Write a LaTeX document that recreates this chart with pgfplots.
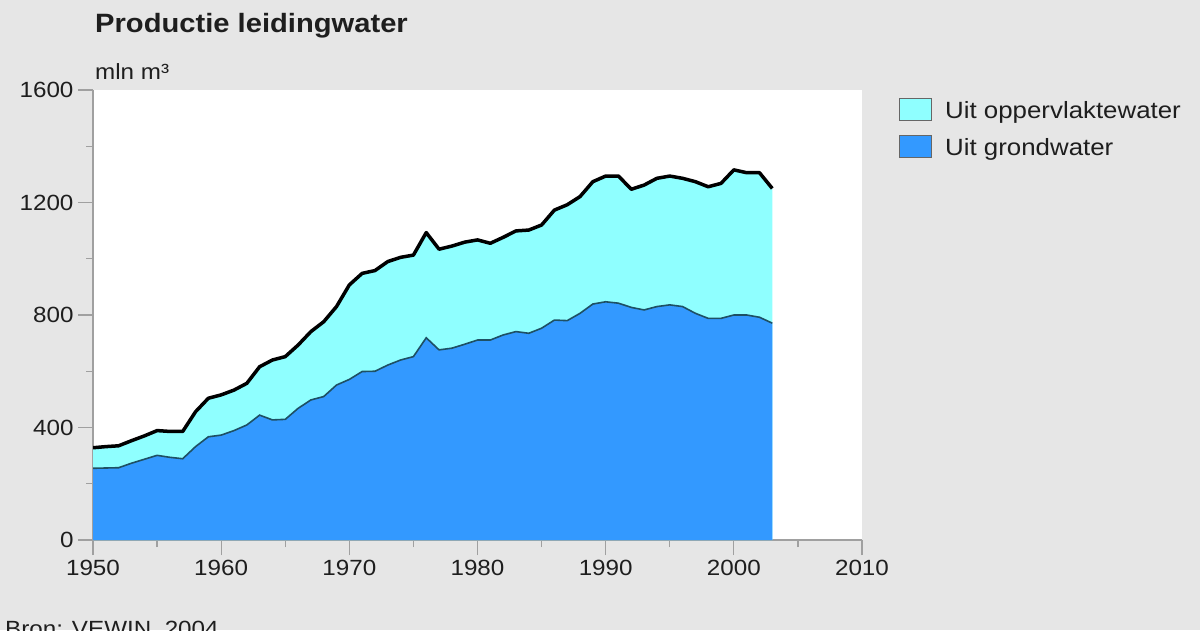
\documentclass[border=0pt]{standalone}
\usepackage{fontspec}
\setmainfont[FakeStretch=1.1]{Liberation Sans}
\usepackage{pgfplots}
\usepackage{pgfplotstable}
\pgfplotsset{compat=1.18}
\definecolor{bggray}{RGB}{230,230,230}
\definecolor{surf}{RGB}{143,255,255}
\definecolor{grnd}{RGB}{51,153,255}
\definecolor{edge}{RGB}{30,80,100}
\definecolor{axgray}{RGB}{160,160,160}
\definecolor{txt}{RGB}{30,30,30}

\pgfplotstableread{
year ground total
1950 255 328
1951 256 332
1952 257 335
1953 273 353
1954 287 370
1955 301 389
1956 294 386
1957 289 386
1958 332 456
1959 367 504
1960 373 516
1961 389 533
1962 409 557
1963 444 616
1964 427 640
1965 429 652
1966 468 693
1967 498 741
1968 510 776
1969 551 830
1970 571 907
1971 599 948
1972 600 958
1973 622 990
1974 640 1005
1975 652 1013
1976 719 1093
1977 676 1034
1978 682 1045
1979 696 1059
1980 711 1067
1981 711 1055
1982 729 1076
1983 741 1099
1984 735 1102
1985 753 1120
1986 782 1173
1987 780 1192
1988 806 1221
1989 839 1274
1990 847 1294
1991 842 1294
1992 827 1247
1993 818 1262
1994 830 1286
1995 836 1294
1996 830 1286
1997 806 1274
1998 788 1256
1999 788 1268
2000 800 1316
2001 800 1306
2002 792 1306
2003 771 1250
}\datatable

\begin{document}
\begin{tikzpicture}[x=1pt,y=1pt]
\clip (0,0) rectangle (1200,630);
\fill[bggray] (0,0) rectangle (1200,630);
\begin{axis}[
  at={(93pt,90pt)}, anchor=south west,
  scale only axis, width=769pt, height=450pt,
  xmin=1950, xmax=2010, ymin=0, ymax=1600,
  axis x line=bottom, axis y line=left,
  axis line style={-, draw=axgray, line width=1.5pt},
  axis background/.style={fill=white},
  xtick={1950,1960,...,2010},
  minor xtick={1955,1965,...,2005},
  ytick={0,400,...,1600},
  minor ytick={200,600,1000,1400},
  tick align=outside,
  major tick length=15pt, minor tick length=7pt,
  every tick/.style={draw=axgray, line width=1.2pt},
  /pgf/number format/1000 sep={},
  /pgf/number format/assume math mode=true,
  tick label style={font=\fontsize{22}{26}\selectfont, text=txt},
  yticklabel style={xshift=-1pt},
  xticklabel style={yshift=-2pt},
  legend style={draw=none, fill=none, at={(axis description cs:1.044,0.987)}, anchor=north west,
    font=\fontsize{23.5}{27}\selectfont, text=txt, row sep=13pt,
    /tikz/every odd column/.append style={column sep=11pt}},
  legend cell align=left,
  legend image code/.code={\draw[#1] (0pt,-10pt) rectangle (32pt,12pt);},
]
\addplot[fill=surf, draw=none, forget plot] table[x=year,y=total] {\datatable} \closedcycle;
\addplot[fill=grnd, draw=none, forget plot] table[x=year,y=ground] {\datatable} \closedcycle;
\addplot[edge, line width=1.6pt, forget plot] table[x=year,y=ground] {\datatable};
\addplot[black, line width=3.5pt, line join=round, forget plot] table[x=year,y=total] {\datatable};
\addlegendimage{fill=surf, draw=black!60, line width=1.2pt}
\addlegendentry{Uit oppervlaktewater}
\addlegendimage{fill=grnd, draw=black!60, line width=1.2pt}
\addlegendentry{Uit grondwater}
\end{axis}
\node[anchor=base west, text=txt, font=\fontsize{26.5}{30}\selectfont\bfseries, inner sep=0pt] at (95,597) {Productie leidingwater};
\node[anchor=base west, text=txt, font=\fontsize{22}{26}\selectfont, inner sep=0pt] at (95,550) {mln m³};
\node[anchor=base west, text=txt, font=\fontsize{22}{26}\selectfont, inner sep=0pt] at (5,-6) {Bron: VEWIN, 2004};
\end{tikzpicture}
\end{document}
